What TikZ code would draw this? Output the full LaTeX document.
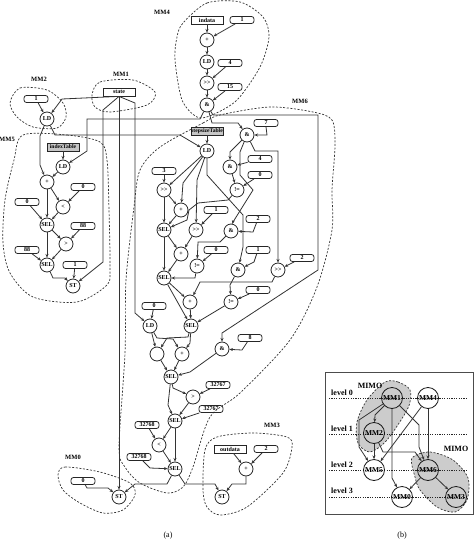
\documentclass[tikz,border=0pt]{standalone}
\usepackage{fontspec}
\setmainfont{Liberation Serif}
\usetikzlibrary{arrows.meta}

\begin{document}
\begin{tikzpicture}[x=1pt,y=-1pt]
\tikzset{
  oper/.style={circle, draw=black!85, line width=0.8pt, minimum size=14pt, inner sep=0pt, font=\fontsize{6}{7}\selectfont\bfseries},
  const/.style={rectangle, rounded corners=2.5pt, draw=black!85, line width=0.8pt, minimum width=24pt, minimum height=7pt, inner sep=0pt, font=\fontsize{6}{7}\selectfont\bfseries},
  mem/.style={rectangle, draw=black!85, line width=0.8pt, minimum width=32pt, minimum height=8pt, inner sep=0pt, font=\fontsize{6}{7}\selectfont\bfseries},
  table/.style={mem, fill=black!22, font=\fontsize{5.6}{6}\selectfont\bfseries},
  flow/.style={-{Stealth[length=3.6pt,width=3pt]}, line width=0.8pt, draw=black!80},
  blob/.style={dash pattern=on 2pt off 1.6pt, line width=0.7pt, draw=black!80},
  shade/.style={blob, fill=black!20},
  tag/.style={font=\fontsize{6.5}{7}\selectfont\bfseries},
  level/.style={font=\fontsize{8}{9}\selectfont\bfseries},
  dotline/.style={dash pattern=on 1.2pt off 1.2pt, line width=0.6pt, draw=black!85},
  unit/.style={circle, draw=black!90, line width=0.8pt, minimum size=21pt, inner sep=0pt, font=\fontsize{7.5}{8}\selectfont\bfseries},
  caption/.style={font=\fontsize{8}{9}\selectfont}
}
\useasboundingbox (0,0) rectangle (474,541);

% dashed regions of part (a)
\draw[blob] plot[smooth cycle] coordinates {(92,95) (100,82) (133,80) (155,92) (147,105) (110,112) (95,107)};
\draw[blob] plot[smooth cycle] coordinates {(10,103) (20,88) (47,90) (63,103) (66,117) (57,128) (33,127) (17,117)};
\draw[blob] plot[smooth cycle] coordinates {(23,135) (67,135) (100,142) (107,160) (109,210) (110,267) (107,285) (77,302) (33,297) (10,273) (3,243) (5,200) (14,160)};
\draw[blob] plot[smooth cycle] coordinates {(183,23) (207,3) (240,2) (263,17) (269,37) (260,67) (237,100) (212,115) (197,117) (182,100) (175,60) (177,37)};
\draw[blob] plot[smooth cycle] coordinates {(160,147) (203,123) (220,115) (270,107) (313,112) (332,120) (335,145) (332,190) (332,230) (317,287) (290,340) (240,393) (210,417) (193,467) (183,487) (167,493) (140,483) (125,467) (119,447) (125,353) (126,280) (134,207) (140,170)};
\draw[blob] plot[smooth cycle] coordinates {(58,475) (65,467) (100,472) (130,483) (135,495) (123,510) (103,513) (80,503) (63,490)};
\draw[blob] plot[smooth cycle] coordinates {(203,490) (205,450) (217,437) (253,433) (287,437) (292,447) (283,473) (247,507) (220,515) (207,507)};

% MM1, MM2, MM5
\node[mem] (state) at (119,92) {state};
\node[const] (c1a) at (36,99) {1};
\node[oper] (ldA) at (47,119) {LD};
\node[table] (indexTable) at (63,147) {indexTable};
\node[oper] (ldB) at (63,167) {LD};
\node[oper] (addA) at (47,182) {+};
\node[const] (c0a) at (83,187) {0};
\node[oper] (ltA) at (63,207) {<};
\node[const] (c0b) at (27,202) {0};
\node[oper] (selA) at (47,225) {SEL};
\node[const] (c88a) at (83,226) {88};
\node[oper] (gtA) at (66,244) {>};
\node[const] (c88b) at (27,250) {88};
\node[oper] (selB) at (47,265) {SEL};
\node[const] (c1b) at (75,265) {1};
\node[oper] (stA) at (73,286) {ST};

% MM4
\node[mem] (indata) at (207,20) {indata};
\node[const] (c1c) at (242,20) {1};
\node[oper] (addB) at (207,40) {+};
\node[oper] (ldC) at (207,62) {LD};
\node[const] (c4a) at (230,63) {4};
\node[oper] (shrA) at (207,83) {{>}{>}};
\node[const] (c15) at (230,87) {15};
\node[oper] (andA) at (207,105) {\&};

% MM6
\node[table] (stepTable) at (207,131) {stepsizeTable};
\node[oper] (ldD) at (207,151) {LD};
\node[oper] (andB) at (247,135) {\&};
\node[const] (c7) at (266,123) {7};
\node[oper] (andC) at (230,167) {\&};
\node[const] (c4b) at (260,159) {4};
\node[const] (c0c) at (260,175) {0};
\node[oper] (neA) at (237,190) {!=};
\node[const] (c3) at (164,171) {3};
\node[oper] (shrB) at (164,190) {{>}{>}};
\node[oper] (addC) at (181,210) {+};
\node[oper] (selC) at (164,230) {SEL};
\node[oper] (shrC) at (196,230) {{>}{>}};
\node[const] (c1d) at (216,210) {1};
\node[oper] (andD) at (231,231) {\&};
\node[const] (c2a) at (258,219) {2};
\node[oper] (addD) at (181,254) {+};
\node[oper] (neB) at (197,266) {!=};
\node[const] (c0d) at (216,250) {0};
\node[oper] (andE) at (238,270) {\&};
\node[const] (c1e) at (258,250) {1};
\node[oper] (shrD) at (278,270) {{>}{>}};
\node[const] (c2b) at (302,258) {2};
\node[oper] (selD) at (164,278) {SEL};
\node[oper] (addE) at (190,302) {+};
\node[oper] (neC) at (231,302) {!=};
\node[const] (c0e) at (258,290) {0};
\node[const] (c0f) at (154,306) {0};
\node[oper] (ldE) at (150,326) {LD};
\node[oper] (selE) at (191,326) {SEL};
\node[oper] (blank) at (157,354) {};
\node[oper] (addF) at (182,354) {+};
\node[oper] (andF) at (222,349) {\&};
\node[const] (c8) at (250,338) {8};
\node[oper] (selF) at (171,377) {SEL};
\node[oper] (gtB) at (193,397) {>};
\node[const] (c32767a) at (218,385) {32767};
\node[oper] (selG) at (175,421) {SEL};
\node[const] (c32767b) at (211,409) {32767};
\node[oper] (ltB) at (159,445) {<};
\node[const] (c32768a) at (147,425) {32768};
\node[const] (c32768b) at (139,457) {32768};
\node[oper] (selH) at (175,469) {SEL};

% MM0, MM3
\node[const] (c0g) at (83,481) {0};
\node[oper] (stB) at (119,497) {ST};
\node[mem] (outdata) at (230,449) {outdata};
\node[const] (c2c) at (266,449) {2};
\node[oper] (addG) at (246,469) {+};
\node[oper] (stC) at (222,497) {ST};

% region names
\node[tag] (mm0) at (73,457) {MM0};
\node[tag] (mm1) at (121,74) {MM1};
\node[tag] (mm2) at (39,79) {MM2};
\node[tag] (mm3) at (272,425) {MM3};
\node[tag] (mm4) at (162,12) {MM4};
\node[tag] (mm5) at (7,139) {MM5};
\node[tag] (mm6) at (300,101) {MM6};
\node[caption] (capa) at (168,536) {(a)};

% connectors of MM1, MM2, MM5
\draw[flow] (state.south) -- (62,99) -- (ldA);
\draw[flow] (state.south) -- (103,110) -- (103,262) -- (stA);
\draw[flow] (state.south) -- (stB.north -| state.south);
\draw[flow] (state.south) -- (135,103) -- (135,313) -- (ldE);
\draw[flow] (c1a) -- (ldA);
\draw[flow] (ldA) -- (40,136) -- (40,165) -- (addA);
\draw[flow] (ldA) -- (55,135) -- (180,135) -- (ldD);
\draw[flow] (indexTable) -- (ldB);
\draw[flow] (ldB) -- (addA);
\draw[flow] (addA) -- (ltA);
\draw[flow] (addA) -- (selA);
\draw[flow] (c0a) -- (ltA);
\draw[flow] (ltA) -- (selA);
\draw[flow] (c0b) -- (selA);
\draw[flow] (selA) -- (gtA);
\draw[flow] (selA) -- (selB);
\draw[flow] (c88a) -- (gtA);
\draw[flow] (gtA) -- (selB);
\draw[flow] (c88b) -- (selB);
\draw[flow] (selB) -- (53,278) -- (65,278) -- (stA);
\draw[flow] (c1b) -- (stA);

% connectors of MM4
\draw[flow] (indata) -- (addB);
\draw[flow] (c1c) -- (addB);
\draw[flow] (addB) -- (ldC);
\draw[flow] (ldC) -- (shrA);
\draw[flow] (c4a) -- (shrA);
\draw[flow] (shrA) -- (andA);
\draw[flow] (c15) -- (andA);
\draw[flow] (andA) -- (200,119) -- (87,119) -- (87,151) -- (ldB);
\draw[flow] (andA) -- (213,115) -- (318,115) -- (318,270) -- (222,333) -- (andF);
\draw[flow] (andA) -- (212,123) -- (238,123) -- (andB);

% connectors of MM6
\draw[flow] (stepTable) -- (ldD);
\draw[flow] (c7.south) -- (267,135) -- (andB);
\draw[flow] (andB) -- (230,152) -- (andC);
\draw[flow] (andB) -- (255,151) -- (278,151) -- (shrD);
\draw[flow] (andB) -- (240,152) -- (240,175) -- (253,190) -- (233,222) -- (andD);
\draw[flow] (andC) -- (neA);
\draw[flow] (c4b) -- (andC);
\draw[flow] (c0c) -- (neA);
\draw[flow] (neA) -- (228,200) -- (198,203) -- (189,210) -- (187,220) -- (selC);
\draw[flow] (ldD) -- (shrB);
\draw[flow] (ldD) -- (183,183) -- (addC);
\draw[flow] (ldD) -- (197,180) -- (shrC);
\draw[flow] (ldD) -- (207,175) -- (243,215) -- (243,247) -- (andE);
\draw[flow] (c3) -- (shrB);
\draw[flow] (shrB) -- (addC);
\draw[flow] (shrB) -- (selC);
\draw[flow] (addC) -- (selC);
\draw[flow] (c1d) -- (shrC);
\draw[flow] (selC) -- (addD);
\draw[flow] (selC) -- (selD);
\draw[flow] (shrC) -- (addD);
\draw[flow] (c2a) -- (253,232) -- (andD);
\draw[flow] (andD) -- (220,242) -- (198,242) -- (neB);
\draw[flow] (c0d) -- (neB);
\draw[flow] (addD) -- (selD);
\draw[flow] (neB) -- (195,278) -- (selD);
\draw[flow] (c1e) -- (254,262) -- (andE);
\draw[flow] (andE) -- (230,285) -- (neC);
\draw[flow] (c2b) -- (shrD);
\draw[flow] (shrD) -- (272,282) -- (200,282) -- (addE);
\draw[flow] (c0e) -- (neC);
\draw[flow] (selD) -- (addE);
\draw[flow] (selD) -- (selE);
\draw[flow] (addE) -- (selE);
\draw[flow] (neC) -- (selE);
\draw[flow] (c0f) -- (ldE);
\draw[flow] (ldE) -- (blank);
\draw[flow] (ldE) -- (157,338) -- (173,339) -- (addF);
\draw[flow] (selE) -- (188,337) -- (167,338) -- (blank);
\draw[flow] (selE) -- (190,343) -- (addF);
\draw[flow] (blank) -- (selF);
\draw[flow] (addF) -- (selF);
\draw[flow] (andF) -- (190,372) -- (selF);
\draw[flow] (c8) -- (242,350) -- (andF);
\draw[flow] (selF) -- (173,388) -- (gtB);
\draw[flow] (selF) -- (168,405) -- (selG);
\draw[flow] (c32767a) -- (gtB);
\draw[flow] (gtB) -- (selG);
\draw[flow] (c32767b) -- (selG);
\draw[flow] (selG) -- (ltB);
\draw[flow] (selG) -- (selH);
\draw[flow] (c32768a) -- (ltB);
\draw[flow] (ltB) -- (selH);
\draw[flow] (c32768b) -- (150,468) -- (selH);

% connectors of MM0, MM3
\draw[flow] (selH) -- (167,484) -- (135,484) -- (stB);
\draw[flow] (selH) -- (185,484) -- (215,484) -- (stC);
\draw[flow] (c0g) -- (87,488) -- (108,488) -- (stB);
\draw[flow] (outdata) -- (addG);
\draw[flow] (c2c) -- (addG);
\draw[flow] (addG) -- (246,484) -- (232,484) -- (stC);

% part (b)
\node[draw=black!70, line width=1pt, minimum width=148pt, minimum height=142pt, inner sep=0pt] (frame) at (399,443) {};
\draw[shade] plot[smooth cycle] coordinates {(385,382) (398,382) (410,390) (408,408) (387,440) (370,452) (358,443) (357,422) (367,400)};
\draw[shade] plot[smooth cycle] coordinates {(412,458) (430,452) (453,460) (468,478) (467,500) (455,512) (437,507) (420,490) (415,477)};
\draw[dotline] (329,398) -- (468,398);
\draw[dotline] (329,434) -- (468,434);
\draw[dotline] (329,470) -- (468,470);
\draw[dotline] (329,497) -- (468,497);
\node[level] (lev0) at (342,393) {level 0};
\node[level] (lev1) at (342,429) {level 1};
\node[level] (lev2) at (342,465) {level 2};
\node[level] (lev3) at (342,491) {level 3};
\node[level] (mimoA) at (370,386) {MIMO};
\node[level] (mimoB) at (456,449) {MIMO};
\node[unit] (unit1) at (392,398) {MM1};
\node[unit] (unit4) at (428,398) {MM4};
\node[unit] (unit2) at (374,433) {MM2};
\node[unit] (unit5) at (374,470) {MM5};
\node[unit] (unit6) at (428,470) {MM6};
\node[unit] (unit0) at (402,497) {MM0};
\node[unit] (unit3) at (456,497) {MM3};
\node[caption] (capb) at (402,536) {(b)};

\draw[flow] (unit1) -- (375,415) -- (unit2);
\draw[flow] (unit1) -- (359,420) -- (359,447) -- (unit5);
\draw[flow] (unit1) -- (392,478) -- (unit0);
\draw[flow] (unit1) -- (419,425) -- (419,447) -- (unit6);
\draw[flow] (unit4) -- (unit5);
\draw[flow] (unit4) -- (unit6);
\draw[flow] (unit2) -- (unit5);
\draw[flow] (unit2) -- (383,452) -- (415,452) -- (unit6);
\draw[flow] (unit6) -- (unit0);
\draw[flow] (unit6) -- (unit3);
\end{tikzpicture}
\end{document}
